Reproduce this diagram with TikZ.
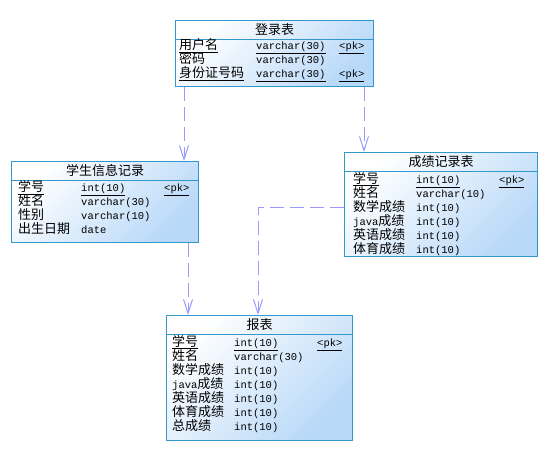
\documentclass[tikz,border=0pt]{standalone}
\usepackage{fontspec}
\setmonofont{Liberation Mono}
\newfontfamily\cjk{Noto Sans CJK SC}
\usetikzlibrary{positioning, arrows.meta}
\definecolor{tblborder}{HTML}{3399CC}
\definecolor{tblfill}{HTML}{B8D8F8}
\definecolor{fkline}{HTML}{9999FF}
\newcommand\jv{{\ttfamily\fontsize{10.5}{12}\selectfont java}}
\tikzset{
  tbl/.style={draw=tblborder, line width=1pt, top color=white, bottom color=tblfill,
    shading angle=45, anchor=north west, inner sep=0pt},
  ttl/.style={anchor=north, minimum height=18.5pt, inner sep=0pt,
    font=\cjk\fontsize{13}{15}\selectfont},
  fld/.style={anchor=west, inner sep=0pt, text height=8.5pt, text depth=2pt,
    font=\cjk\fontsize{13}{15}\selectfont},
  typ/.style={fld, font=\ttfamily\fontsize{10.5}{12}\selectfont},
  fk/.style={draw=fkline, line width=1pt, dash pattern=on 14pt off 6pt,
    -{Straight Barb[length=14pt,width=9pt]}}}

\begin{document}
\begin{tikzpicture}[x=1pt, y=-1pt]
\useasboundingbox (0,0) rectangle (554,460);
% tables
\node[tbl, minimum width=198pt, minimum height=66pt] (login) at (175,20) {};
\node[ttl] (login-t) at (login.north) {登录表};
\draw[tblborder] (login.west |- login-t.south) -- (login.east |- login-t.south);
\foreach \n/\t [count=\i] in {\underline{用户名}/\underline{varchar(30)}, 密码/varchar(30),
  \underline{身份证号码}/\underline{varchar(30)}}{
  \node[fld] (login-n\i) at (179, 32.5+14*\i) {\n};
  \node[typ] (login-y\i) at (256, 32.5+14*\i) {\t};
}
\node[typ] (login-k1) at (339, 46.5) {\underline{<pk>}};
\node[typ] (login-k3) at (339, 74.5) {\underline{<pk>}};

\node[tbl, minimum width=187pt, minimum height=81pt] (stuinfo) at (11,161) {};
\node[ttl] (stuinfo-t) at (stuinfo.north) {学生信息记录};
\draw[tblborder] (stuinfo.west |- stuinfo-t.south) -- (stuinfo.east |- stuinfo-t.south);
\foreach \n/\t [count=\i] in {\underline{学号}/\underline{int(10)}, 姓名/varchar(30),
  性别/varchar(10), 出生日期/date}{
  \node[fld] (stuinfo-n\i) at (18, 174.5+14*\i) {\n};
  \node[typ] (stuinfo-y\i) at (81, 174.5+14*\i) {\t};
}
\node[typ] (stuinfo-k1) at (164, 188.5) {\underline{<pk>}};

\node[tbl, minimum width=193pt, minimum height=104pt] (score) at (344,152) {};
\node[ttl] (score-t) at (score.north) {成绩记录表};
\draw[tblborder] (score.west |- score-t.south) -- (score.east |- score-t.south);
\foreach \n/\t [count=\i] in {\underline{学号}/\underline{int(10)}, 姓名/varchar(10),
  数学成绩/int(10), \jv 成绩/int(10), 英语成绩/int(10), 体育成绩/int(10)}{
  \node[fld] (score-n\i) at (353, 166+14*\i) {\n};
  \node[typ] (score-y\i) at (416, 166+14*\i) {\t};
}
\node[typ] (score-k1) at (499, 180) {\underline{<pk>}};

\node[tbl, minimum width=186pt, minimum height=125pt] (report) at (166,315) {};
\node[ttl] (report-t) at (report.north) {报表};
\draw[tblborder] (report.west |- report-t.south) -- (report.east |- report-t.south);
\foreach \n/\t [count=\i] in {\underline{学号}/\underline{int(10)}, 姓名/varchar(30),
  数学成绩/int(10), \jv 成绩/int(10), 英语成绩/int(10), 体育成绩/int(10), 总成绩/int(10)}{
  \node[fld] (report-n\i) at (172, 329+14*\i) {\n};
  \node[typ] (report-y\i) at (234, 329+14*\i) {\t};
}
\node[typ] (report-k1) at (317, 343) {\underline{<pk>}};

% references
\draw[fk] ([xshift=9pt]login.south west) -- ([xshift=9pt]login.south west |- stuinfo.north);
\draw[fk] ([xshift=-10pt]login.south east) -- ([xshift=-10pt]login.south east |- score.north);
\draw[fk] ([xshift=-11pt]stuinfo.south east) -- ([xshift=-11pt]stuinfo.south east |- report.north);
\draw[fk] ([yshift=-55pt]score.north west) -| ([xshift=92pt]report.north west);
\end{tikzpicture}
\end{document}
